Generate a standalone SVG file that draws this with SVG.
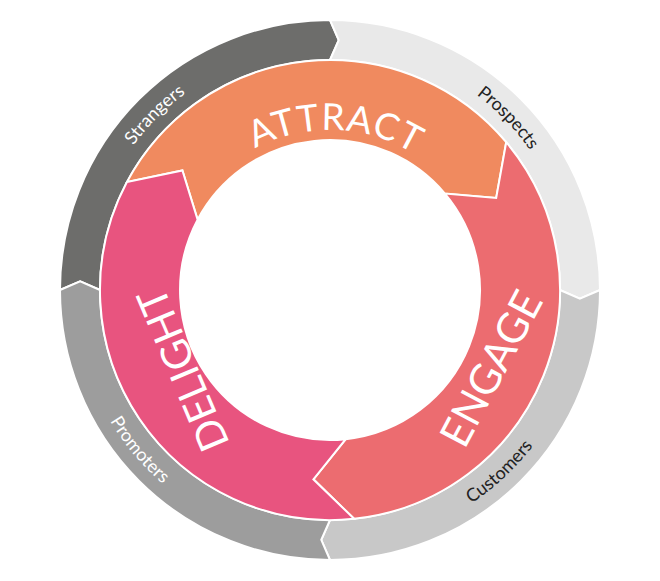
<svg xmlns="http://www.w3.org/2000/svg" width="660" height="581" viewBox="0 0 660 581">
<style>
.seg{stroke:#fff;stroke-width:2}
.lbl{font-family:Lato,"Liberation Sans",sans-serif;font-size:18px}
.big{font-family:Lato,"Liberation Sans",sans-serif;fill:#fff;text-anchor:middle}
</style>
<defs>
<path id="oseg" d="M0,-270 A270,270 0 0 1 270,0 L249.85,8.73 L230,0 A230,230 0 0 0 0,-230 L8.73,-249.85 Z"/>
<path id="pStr" d="M86.9,268.7 A244,244 0 0 1 308.7,46.9"/>
<path id="pPro" d="M355.5,47.3 A244,244 0 0 1 573.4,273"/>
<path id="pCus" d="M343.4,545.6 A256,256 0 0 0 584.1,321.2"/>
<path id="pPrm" d="M74,290 A256,256 0 0 0 285.6,542.1"/>
<path id="pAtt" d="M194.3,205.2 A160,160 0 0 1 471.3,214.9"/>
</defs>
<rect width="660" height="581" fill="#fff"/>
<g id="outer" transform="translate(330,290)">
<use href="#oseg" class="seg" fill="#6d6d6b" transform="rotate(-90)"/>
<use href="#oseg" class="seg" fill="#e9e9e9"/>
<use href="#oseg" class="seg" fill="#c8c8c8" transform="rotate(90)"/>
<use href="#oseg" class="seg" fill="#9d9d9d" transform="rotate(180)"/>
</g>
<g id="strangers"><text class="lbl" fill="#fff" text-anchor="middle"><textPath href="#pStr" startOffset="50%">Strangers</textPath></text></g>
<g id="prospects"><text class="lbl" fill="#222" text-anchor="middle"><textPath href="#pPro" startOffset="50%">Prospects</textPath></text></g>
<g id="customers"><text class="lbl" fill="#222" text-anchor="middle"><textPath href="#pCus" startOffset="50%">Customers</textPath></text></g>
<g id="promoters"><text class="lbl" fill="#fff" text-anchor="middle"><textPath href="#pPrm" startOffset="50%">Promoters</textPath></text></g>
<g id="attract">
<path class="seg" fill="#f08a5f" stroke-width="2.5" d="M126.9,182.1 A230,230 0 0 1 506.2,142.2 L496.2,197.9 L444.9,193.6 A150,150 0 0 0 197.6,219.6 L182.4,170.5 Z"/>
<text class="big" font-size="37" letter-spacing="1"><textPath href="#pAtt" startOffset="50%">ATTRACT</textPath></text>
</g>
<g id="engage">
<path class="seg" fill="#ec6c70" stroke-width="2.5" d="M506.2,142.2 A230,230 0 0 1 354.1,518.8 L313.4,479.3 L345.7,439.2 A150,150 0 0 0 444.9,193.6 L496.2,197.9 Z"/>
<text class="big" font-size="42" dominant-baseline="central" transform="translate(490,368) rotate(-62)">ENGAGE</text>
</g>
<g id="delight">
<path class="seg" fill="#e8547f" stroke-width="2.5" d="M354.1,518.8 A230,230 0 0 1 126.9,182.1 L182.4,170.5 L197.6,219.6 A150,150 0 0 0 345.7,439.2 L313.4,479.3 Z"/>
<text class="big" font-size="41" dominant-baseline="central" transform="translate(182,370) rotate(-113)">DELIGHT</text>
</g>
</svg>
